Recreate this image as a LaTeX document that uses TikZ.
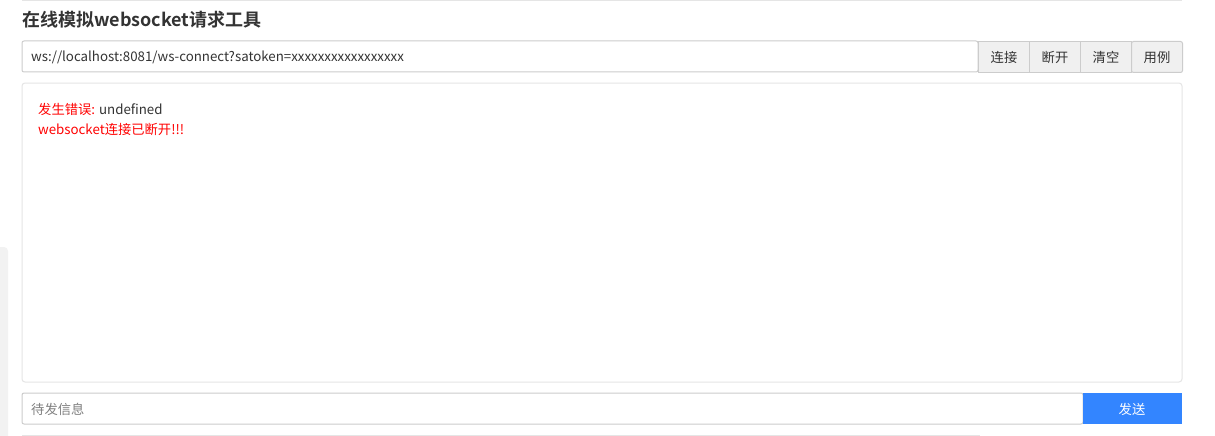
\documentclass[tikz,border=0pt]{standalone}
\usepackage{fontspec}
\setmainfont{Noto Sans CJK SC}
\newfontfamily\boldcjk{Noto Sans CJK SC Bold}
\definecolor{bord}{HTML}{CCCCCC}
\definecolor{lite}{HTML}{E5E5E5}
\definecolor{btnfill}{HTML}{F0F0F0}
\definecolor{txt}{HTML}{333333}
\definecolor{sendblue}{HTML}{3385FF}
\definecolor{strip}{HTML}{F2F2F2}
\tikzset{
  field/.style={draw=bord, fill=white, line width=1pt, rounded corners=2pt},
  btn/.style={draw=bord, fill=btnfill, line width=1pt, minimum width=51pt, minimum height=31pt, inner sep=0pt, font=\fontsize{13.3}{15}\selectfont, text=txt},
  lbl/.style={anchor=west, inner sep=0pt, font=\fontsize{13.3}{15}\selectfont}
}
\begin{document}
\begin{tikzpicture}[x=1pt,y=-1pt]
\useasboundingbox (0,0) rectangle (1215,436);
\fill[white] (0,0) rectangle (1215,436);
\fill[strip, rounded corners=4pt] (-5,247) rectangle (8,440);
\draw[lite, line width=1pt] (22,1) -- (1182,1);
\node[lbl, font=\fontsize{18}{20}\selectfont\boldcjk, text=txt] (title) at (22,20) {在线模拟websocket请求工具};
\draw[field] (22,41) rectangle (978,72);
\node[lbl, text=txt] (url) at (31,57) {ws://localhost:8081/ws-connect?satoken=xxxxxxxxxxxxxxxxx};
\node[btn, anchor=north west] (b1) at (978,41) {连接};
\node[btn, anchor=north west] (b2) at (1029,41) {断开};
\node[btn, anchor=north west] (b3) at (1080,41) {清空};
\node[btn, anchor=north west, rounded corners=2pt] (b4) at (1131,41) {用例};
\draw[draw=lite, line width=1pt, rounded corners=3pt] (22,83) rectangle (1182,382);
\node[lbl] (l1) at (38,109) {\textcolor{red}{发生错误:} \textcolor{txt}{undefined}};
\node[lbl, text=red] (l2) at (38,129) {websocket连接已断开!!!};
\draw[field] (22,393) rectangle (1083,424);
\node[lbl, text=gray] (ph) at (31,409) {待发信息};
\fill[sendblue] (1083,393) rectangle (1182,424);
\node[font=\fontsize{13.3}{15}\selectfont, text=white] (send) at (1132,409) {发送};
\draw[lite, line width=1pt] (22,435.5) -- (980,435.5);
\end{tikzpicture}
\end{document}
